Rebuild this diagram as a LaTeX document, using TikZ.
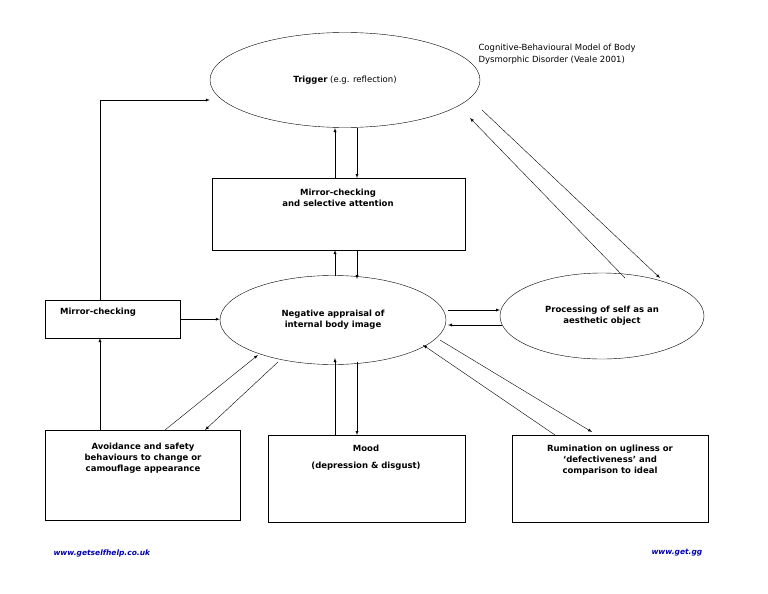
\documentclass[tikz,border=0pt]{standalone}
\usepackage{fontspec}
\setmainfont{DejaVu Sans}
\usetikzlibrary{shapes.geometric}
\begin{document}
\begin{tikzpicture}[x=1pt,y=-1pt,
    oval/.style={ellipse, draw=black, font=\bfseries\fontsize{8.5}{11}\selectfont, align=center},
    box/.style={rectangle, draw=black, anchor=north west},
    lbl/.style={font=\bfseries\fontsize{8.5}{11}\selectfont, align=center},
    conn/.style={-latex, thin}
]
    \useasboundingbox (0,0) rectangle (768,594);
    \node[oval, minimum width=270pt, minimum height=95pt] (trig) at (345,80) {};
    \node[font=\fontsize{8.5}{11}\selectfont] (trigtxt) at (345,80) {\textbf{Trigger} (e.g. reflection)};
    \node[box, minimum width=253pt, minimum height=72pt] (mc) at (212,178) {};
    \node[lbl] (mctxt) at (338,198) {Mirror-checking\\and selective attention};
    \node[oval, minimum width=226pt, minimum height=89pt] (neg) at (333,320) {Negative appraisal of\\internal body image};
    \node[oval, minimum width=204pt, minimum height=86pt] (proc) at (602,316) {Processing of self as an\\aesthetic object};
    \node[box, minimum width=135pt, minimum height=38pt] (mcl) at (45,300) {};
    \node[lbl] (mcltxt) at (98,312) {Mirror-checking};
    \node[box, minimum width=195pt, minimum height=90pt] (avoid) at (45,430) {};
    \node[lbl] (avoidtxt) at (143,458) {Avoidance and safety\\behaviours to change or\\camouflage appearance};
    \node[box, minimum width=197pt, minimum height=87pt] (mood) at (268,435) {};
    \node[lbl] (moodtxt) at (366,458) {Mood\\[6pt](depression \& disgust)};
    \node[box, minimum width=196pt, minimum height=87pt] (rum) at (512,435) {};
    \node[lbl] (rumtxt) at (610,460) {Rumination on ugliness or\\`defectiveness' and\\comparison to ideal};
    \node[anchor=north west, align=left, font=\fontsize{8.5}{12}\selectfont] (title) at (475,41) {Cognitive-Behavioural Model of Body\\Dysmorphic Disorder (Veale 2001)};
    \node[anchor=west, text=blue!70!black, font=\bfseries\itshape\fontsize{7.5}{8}\selectfont] (web1) at (50,553) {www.getselfhelp.co.uk};
    \node[anchor=west, text=blue!70!black, font=\bfseries\itshape\fontsize{7.5}{8}\selectfont] (web2) at (648,553) {www.get.gg};
    % connectors
    \coordinate (c1) at (100,100);
    \draw[conn] (100,300) -- (c1) -- (trig.west |- c1);
    \draw[conn] (mcl.east) -- (neg.west |- mcl.east);
    \draw[conn] (100,430) -- (100,338);
    \draw[conn] (165,430) -- (258,355);
    \draw[conn] (278,362) -- (205,430);
    \draw[conn] (335,435) -- (335,358);
    \draw[conn] (357,362) -- (357,435);
    \draw[conn] (440,340) -- (592,432);
    \draw[conn] (555,435) -- (423,345);
    \draw[conn] (448,310) -- (500,310);
    \draw[conn] (502,325) -- (448,325);
    \draw[conn] (335,178) -- (335,128);
    \draw[conn] (357,128) -- (357,178);
    \draw[conn] (335,276) -- (335,250);
    \draw[conn] (357,250) -- (357,279);
    \draw[conn] (482,110) -- (660,278);
    \draw[conn] (625,278) -- (470,118);
\end{tikzpicture}
\end{document}
